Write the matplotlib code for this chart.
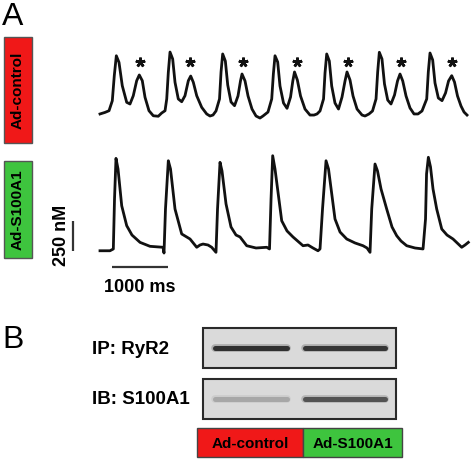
import matplotlib.pyplot as plt
from matplotlib.patches import Rectangle

plt.rcParams['font.family'] = ['Liberation Sans', 'DejaVu Sans']

# Panel A: Ca2+ transients (time in ms, [Ca2+] in nM)
ctrl_t = [0, 88, 159, 217, 252, 288, 335, 393, 471, 529, 587, 647, 693, 746, 794, 864, 940, 1028, 1088, 1147,
          1177, 1205, 1235, 1282, 1323, 1381, 1441, 1499, 1558, 1600, 1646, 1706, 1794, 1882, 1940, 1993, 2046,
          2108, 2135, 2164, 2211, 2253, 2311, 2373, 2434, 2478, 2505, 2558, 2611, 2681, 2752, 2822, 2875, 2963,
          3029, 3058, 3087, 3134, 3175, 3237, 3299, 3361, 3401, 3431, 3481, 3537, 3616, 3704, 3775, 3828, 3881,
          3943, 3969, 3999, 4045, 4087, 4145, 4207, 4269, 4322, 4357, 4410, 4463, 4534, 4622, 4675, 4745, 4807,
          4869, 4898, 4927, 4974, 5018, 5075, 5133, 5195, 5248, 5292, 5340, 5398, 5468, 5539, 5609, 5680,
          5763, 5791, 5821, 5868, 5909, 5968, 6033, 6095, 6148, 6204, 6253, 6306, 6368, 6421, 6474]
ctrl_ca = [117, 130, 144, 227, 436, 602, 547, 352, 214, 200, 269, 394, 442, 394, 256, 144, 102, 98, 125, 144,
           242, 464, 633, 575, 381, 242, 219, 269, 394, 433, 381, 269, 172, 117, 100, 108, 142,
           242, 467, 617, 558, 358, 217, 186, 267, 392, 450, 392, 267, 158, 100, 83, 100, 133,
           242, 450, 602, 550, 350, 208, 164, 258, 392, 467, 400, 267, 158, 108, 108, 117, 142,
           242, 458, 617, 558, 350, 208, 158, 258, 392, 467, 400, 267, 158, 108, 100, 117, 142,
           242, 467, 631, 575, 367, 233, 200, 275, 392, 450, 392, 267, 167, 117, 117, 142,
           242, 467, 625, 567, 375, 250, 228, 292, 392, 436, 383, 267, 183, 133, 108]

s100_t = [0, 176, 235, 256, 282, 318, 383, 471, 564, 706, 882, 1111, 1129, 1155, 1205, 1244, 1323, 1441, 1588, 1706,
          1764, 1817, 1905, 1970, 2046, 2073, 2117, 2152, 2223, 2311, 2399, 2470, 2588, 2752, 2941, 2990, 3017, 3046,
          3087, 3205, 3299, 3404, 3581, 3669, 3757, 3845, 3881, 3925, 3987, 4031, 4145, 4234, 4352, 4498, 4639, 4710,
          4763, 4793, 4851, 4895, 4957, 5057, 5151, 5234, 5310, 5410, 5557, 5698, 5742, 5760, 5792, 5830, 5874, 5939,
          6028, 6121, 6227, 6380, 6439, 6497]
s100_ca = [102, 102, 117, 533, 872, 783, 477, 311, 233, 172, 139, 131, 83, 450, 852, 783, 450, 242, 200, 131,
           150, 158, 150, 131, 89, 450, 839, 767, 492, 300, 233, 217, 144, 125, 131, 117, 533, 894,
           783, 352, 267, 217, 144, 150, 125, 102, 117, 450, 852, 783, 367, 258, 200, 167, 144, 125,
           89, 450, 825, 767, 617, 450, 300, 227, 183, 144, 125, 117, 367, 742, 881, 800, 617, 450,
           283, 233, 200, 131, 150, 172]

# asterisks above the extra (aberrant) transients in Ad-control
star_t = [706, 1588, 2528, 3469, 4380, 5304, 6204]
star_ca = 554

# Panel B
groups = ['Ad-control', 'Ad-S100A1']
group_colors = ['#f01818', '#3ec43e']
blot_rows = ['IP: RyR2', 'IB: S100A1']
band_level = [[0.95, 0.92], [0.28, 0.75]]   # relative band darkness per lane

W, H = 474, 460
fig = plt.figure(figsize=(W / 100, H / 100), dpi=100)


def px_axes(x0, y0, x1, y1):
    return fig.add_axes([x0 / W, 1 - y1 / H, (x1 - x0) / W, (y1 - y0) / H])


# layout layer in pixel units
ax = px_axes(0, 0, W, H)
ax.set_xlim(0, W)
ax.set_ylim(H, 0)
ax.axis('off')

ax.text(2, 17, 'A', fontsize=23, va='center', ha='left')
ax.text(2, 340, 'B', fontsize=23, va='center', ha='left')

# group tags beside the traces
for (y0, h), name, col in zip([(37.5, 106.5), (161.5, 97)], groups, group_colors):
    ax.add_patch(Rectangle((4, y0), 28, h, facecolor=col, edgecolor='#555555', lw=1))
    ax.text(18, y0 + h / 2, name, rotation=90, fontsize=11, fontweight='bold',
            ha='center', va='center')

# traces
ax_top = px_axes(50, 45, 474, 125)
ax_bot = px_axes(50, 150, 474, 300)
for a in (ax_top, ax_bot):
    a.set_xlim(-882, 6597)
    a.axis('off')
ax_top.set_ylim(33.4, 700)
ax_bot.set_ylim(-300, 950)

ax_top.plot(ctrl_t, ctrl_ca, color='#111111', lw=2.0, solid_joinstyle='round')
ax_top.plot(star_t, [star_ca] * len(star_t), ls='none', marker=(5, 2, 0),
            ms=7, mew=1.9, color='#111111')
ax_bot.plot(s100_t, s100_ca, color='#111111', lw=2.0, solid_joinstyle='round')

# scale bars: 1000 ms and 250 nM
ax_bot.plot([206, 1206], [-31, -31], color='#333333', lw=1.6, solid_capstyle='butt')
ax_bot.plot([-470, -470], [100, 350], color='#333333', lw=1.6, solid_capstyle='butt')
ax_bot.text(706, -192, '1000 ms', fontsize=13, fontweight='bold', ha='center', va='center')
ax_bot.text(-676, 242, '250 nM', fontsize=13, fontweight='bold', rotation=90,
            ha='center', va='center')

# Panel B: blots
lanes = [(215, 287), (305, 385)]
for i, (row, y0) in enumerate(zip(blot_rows, [329, 379.5])):
    ax.add_patch(Rectangle((203.5, y0), 192.5, 40, facecolor='#dadada',
                           edgecolor='#2a2a2a', lw=1.5))
    ax.text(92, y0 + 20.5, row, fontsize=13.5, fontweight='bold', ha='left', va='center')
    yc = y0 + 20
    for (x0, x1), lev in zip(lanes, band_level[i]):
        g = 0.85 - 0.75 * lev
        ax.plot([x0, x1], [yc, yc], color=(g, g, g), lw=5.5, alpha=0.25, solid_capstyle='round')
        ax.plot([x0, x1], [yc, yc], color=(g, g, g), lw=3.6, alpha=0.9, solid_capstyle='round')

for (x0, w), name, col in zip([(197, 106), (303, 99)], groups, group_colors):
    ax.add_patch(Rectangle((x0, 429), w, 29, facecolor=col, edgecolor='#444444', lw=1))
    ax.text(x0 + w / 2, 444, name, fontsize=11, fontweight='bold', ha='center', va='center')

fig.savefig('out.png', dpi=100)
